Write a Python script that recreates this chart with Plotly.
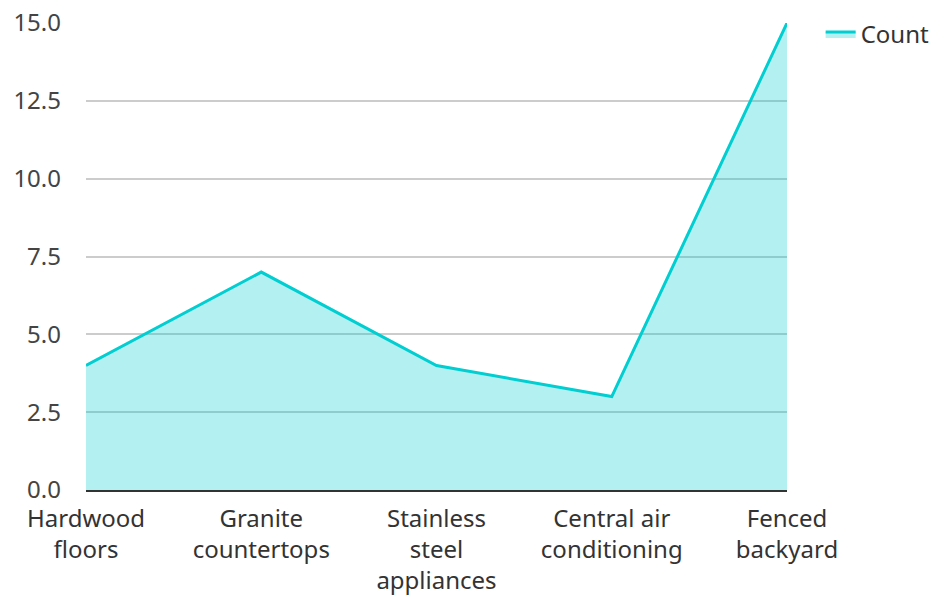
import plotly.graph_objects as go

categories = ["Hardwood<br>floors", "Granite<br>countertops", "Stainless<br>steel<br>appliances",
              "Central air<br>conditioning", "Fenced<br>backyard"]
counts = [4, 7, 4, 3, 15]
series_name = "Count"
y_ticks = [0, 2.5, 5, 7.5, 10, 12.5, 15]

fig = go.Figure()
fig.add_trace(go.Scatter(
    x=categories, y=counts, name=series_name, mode="lines",
    line=dict(color="#00CED1", width=3),
    fill="tozeroy", fillcolor="rgba(0,206,209,0.3)",
    showlegend=True,
))

fig.update_layout(
    width=937, height=589,
    margin=dict(l=78, r=158, t=15, b=107, autoexpand=False),
    paper_bgcolor="white", plot_bgcolor="white",
    font=dict(family="Noto Sans", size=24, color="#333333"),
    showlegend=True,
    legend=dict(x=1.048, y=1.024, xanchor="left", yanchor="top", font=dict(size=24),
                bgcolor="rgba(0,0,0,0)", borderwidth=0),
)
fig.update_xaxes(
    type="category", range=[0, 4], showgrid=False, automargin=False,
    showline=True, linecolor="#333333", linewidth=2,
    ticks="", tickfont=dict(size=24, color="#333333"),
    ticklabelstandoff=6, ticklabeloverflow="allow",
)
fig.update_yaxes(
    range=[0, 15], tickvals=y_ticks, tickformat=".1f", automargin=False,
    showgrid=True, gridcolor="#cccccc", gridwidth=1.5,
    zeroline=False, showline=False, ticks="",
    ticklabelstandoff=24, ticklabeloverflow="allow",
    tickfont=dict(size=24, color="#444444"),
)
fig.write_html("out.html")
